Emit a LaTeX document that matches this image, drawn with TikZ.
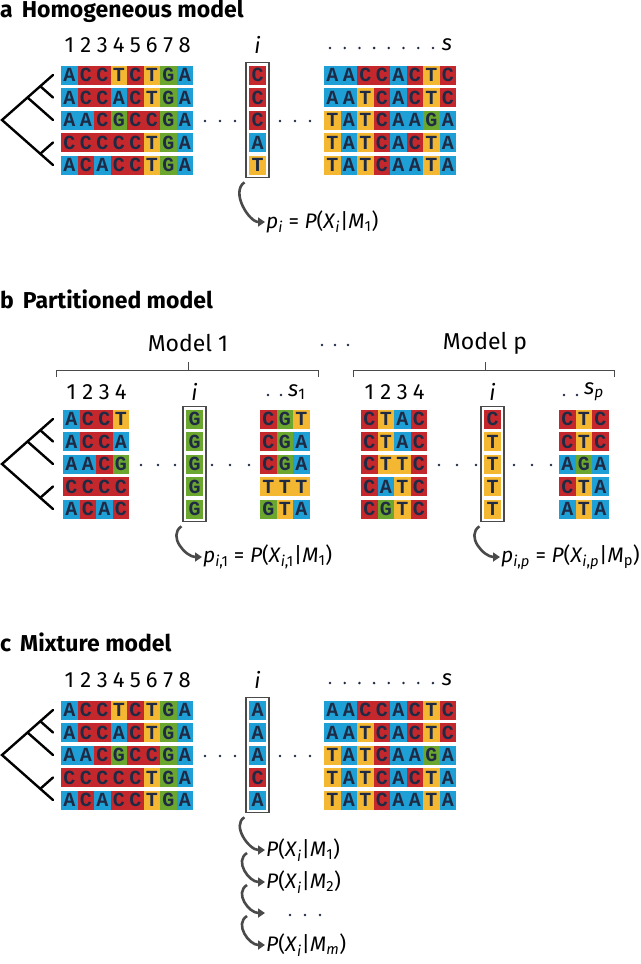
\documentclass[tikz,border=0pt]{standalone}
\usepackage{fontspec}
\setmainfont{Fira Sans}
\newfontfamily\basefont{Liberation Mono}
\usetikzlibrary{arrows.meta,fit,calc}
\definecolor{bA}{HTML}{1E9FD6}
\definecolor{bC}{HTML}{C5282C}
\definecolor{bG}{HTML}{6BA62F}
\definecolor{bT}{HTML}{F4B731}
\definecolor{ink}{HTML}{1F2A44}
\definecolor{arr}{HTML}{4A4A4A}
\tikzset{
  cell/.style={minimum width=16.6pt,minimum height=19pt,inner sep=0pt,
    text=ink,font=\basefont\bfseries\fontsize{20}{20}\selectfont},
  A/.style={fill=bA}, C/.style={fill=bC}, G/.style={fill=bG}, T/.style={fill=bT},
  treeline/.style={line width=2.4pt,black,line cap=round},
  ibox/.style={draw=arr,line width=1.2pt,inner sep=3pt},
  curl/.style={draw=arr,line width=2.6pt,-{Triangle[length=7pt,width=9pt]}},
  num/.style={font=\fontsize{22}{22}\selectfont,inner sep=0pt},
  title/.style={font=\bfseries\fontsize{23}{23}\selectfont,anchor=west,inner sep=0pt},
  mlabel/.style={font=\fontsize{23}{23}\selectfont,inner sep=0pt},
  eq/.style={font=\fontsize{21}{21}\selectfont,anchor=west,inner sep=1pt},
  bracket/.style={draw=arr,line width=1pt},
}
\newcommand\seqrow[4]{\foreach \b [count=\k] in {#4} {\node[cell,\b] (#1-\k) at ({#2+8.3+(\k-1)*16.5},#3) {\b};}}
\newcommand\dotsat[2]{\foreach \xx in {#1} {\fill[ink] (\xx,#2) circle (1.4);}}
\newcommand\tree[1]{%
  \draw[treeline] (53,{#1-45}) -- (2,#1) -- (53,{#1+45});
  \draw[treeline] (53,{#1-22.5}) -- (40.3,{#1-33.75});
  \draw[treeline] (53,#1) -- (27.5,{#1-22.5});
  \draw[treeline] (53,{#1+22.5}) -- (40.3,{#1+33.75});}
\newcommand\iv[1]{\textit{#1}}
\newcommand\sbs[1]{\textsubscript{#1}}
\begin{document}
\begin{tikzpicture}[x=1pt,y=-1pt]
\useasboundingbox (0,0) rectangle (640,964);
%%%%%%%%%%%%%%%% panel a
\node[title] (ta) at (0,11) {a\hspace{9pt}Homogeneous model};
\foreach \n in {1,...,8} {\node[num] (an\n) at ({61+8.3+(\n-1)*16.5},45) {\n};}
\node[num] (ai) at (257.5,45) {\iv{i}};
\dotsat{330,344.7,359.4,374.1,388.8,403.5,418.2,432.9}{48}
\node[num] (as) at (447,45) {\iv{s}};
\seqrow{a1}{61}{75}{A,C,C,T,C,T,G,A}
\seqrow{a2}{61}{97.5}{A,C,C,A,C,T,G,A}
\seqrow{a3}{61}{120}{A,A,C,G,C,C,G,A}
\seqrow{a4}{61}{142.5}{C,C,C,C,C,T,G,A}
\seqrow{a5}{61}{165}{A,C,A,C,C,T,G,A}
\seqrow{aci}{249.2}{75}{C}
\seqrow{acj}{249.2}{97.5}{C}
\seqrow{ack}{249.2}{120}{C}
\seqrow{acl}{249.2}{142.5}{A}
\seqrow{acm}{249.2}{165}{T}
\node[ibox,fit=(aci-1)(acm-1)] (abox) {};
\seqrow{ar1}{324}{75}{A,A,C,C,A,C,T,C}
\seqrow{ar2}{324}{97.5}{A,A,T,C,A,C,T,C}
\seqrow{ar3}{324}{120}{T,A,T,C,A,A,G,A}
\seqrow{ar4}{324}{142.5}{T,A,T,C,A,C,T,A}
\seqrow{ar5}{324}{165}{T,A,T,C,A,A,T,A}
\dotsat{205,220,235,280,295,310}{121}
\tree{120}
\node[eq] (ap) at (265,222) {\iv{p}\sbs{\iv{i}} = \iv{P}(\iv{X}\sbs{\iv{i}}|\iv{M}\sbs{1})};
\draw[curl] ($(abox.south west)+(-1,4)$) .. controls +(-14,10) and +(-16,0) .. (ap.west);
%%%%%%%%%%%%%%%% panel b
\node[title] (tb) at (0,299) {b\hspace{9pt}Partitioned model};
\node[mlabel] (m1) at (188,343) {Model 1};
\dotsat{322,335,348}{345}
\node[mlabel] (mp) at (485,343) {Model p};
\draw[bracket] (56,377) -- (56,370) -- (318,370) -- (318,377);
\draw[bracket] (188,370) -- (188,362);
\draw[bracket] (353,377) -- (353,370) -- (614,370) -- (614,377);
\draw[bracket] (485,370) -- (485,362);
\foreach \n in {1,...,4} {\node[num] (bn\n) at ({63+8.3+(\n-1)*16.5},392) {\n};}
\node[num] (bi1) at (194.5,392) {\iv{i}};
\dotsat{268,281}{395}
\node[num,anchor=west] (bs1) at (288,392) {\iv{s}\sbs{1}};
\foreach \n in {1,...,4} {\node[num] (bpn\n) at ({361+8.3+(\n-1)*16.5},392) {\n};}
\node[num] (bi2) at (492.5,392) {\iv{i}};
\dotsat{564,577}{395}
\node[num,anchor=west] (bs2) at (584,392) {\iv{s}\sbs{\iv{p}}};
\seqrow{b1}{63}{419}{A,C,C,T}
\seqrow{b2}{63}{441.5}{A,C,C,A}
\seqrow{b3}{63}{464}{A,A,C,G}
\seqrow{b4}{63}{486.5}{C,C,C,C}
\seqrow{b5}{63}{509}{A,C,A,C}
\seqrow{bci}{186.2}{419}{G}
\seqrow{bcj}{186.2}{441.5}{G}
\seqrow{bck}{186.2}{464}{G}
\seqrow{bcl}{186.2}{486.5}{G}
\seqrow{bcm}{186.2}{509}{G}
\node[ibox,fit=(bci-1)(bcm-1)] (bbox1) {};
\seqrow{br1}{260}{419}{C,G,T}
\seqrow{br2}{260}{441.5}{C,G,A}
\seqrow{br3}{260}{464}{C,G,A}
\seqrow{br4}{260}{486.5}{T,T,T}
\seqrow{br5}{260}{509}{G,T,A}
\seqrow{p1}{361}{419}{C,T,A,C}
\seqrow{p2}{361}{441.5}{C,T,A,C}
\seqrow{p3}{361}{464}{C,T,T,C}
\seqrow{p4}{361}{486.5}{C,A,T,C}
\seqrow{p5}{361}{509}{C,G,T,C}
\seqrow{pci}{484.2}{419}{C}
\seqrow{pcj}{484.2}{441.5}{T}
\seqrow{pck}{484.2}{464}{T}
\seqrow{pcl}{484.2}{486.5}{T}
\seqrow{pcm}{484.2}{509}{T}
\node[ibox,fit=(pci-1)(pcm-1)] (bbox2) {};
\seqrow{pr1}{559}{419}{C,T,C}
\seqrow{pr2}{559}{441.5}{C,T,C}
\seqrow{pr3}{559}{464}{A,G,A}
\seqrow{pr4}{559}{486.5}{C,T,A}
\seqrow{pr5}{559}{509}{A,T,A}
\dotsat{141,158,175,212,230,249,439,457,476,514,532,551}{465}
\tree{464}
\node[eq] (bp1) at (202,557) {\iv{p}\sbs{\iv{i},1} = \iv{P}(\iv{X}\sbs{\iv{i},1}|\iv{M}\sbs{1})};
\node[eq] (bp2) at (500,557) {\iv{p}\sbs{\iv{i},\iv{p}} = \iv{P}(\iv{X}\sbs{\iv{i},\iv{p}}|\iv{M}\sbs{p})};
\draw[curl] ($(bbox1.south west)+(-1,4)$) .. controls +(-14,10) and +(-16,0) .. (bp1.west);
\draw[curl] ($(bbox2.south west)+(-1,4)$) .. controls +(-14,10) and +(-16,0) .. (bp2.west);
%%%%%%%%%%%%%%%% panel c
\node[title] (tc) at (0,642) {c\hspace{9pt}Mixture model};
\foreach \n in {1,...,8} {\node[num] (cn\n) at ({61+8.3+(\n-1)*16.5},680) {\n};}
\node[num] (ci) at (257.5,680) {\iv{i}};
\dotsat{330,344.7,359.4,374.1,388.8,403.5,418.2,432.9}{683}
\node[num] (cs) at (447,680) {\iv{s}};
\seqrow{c1}{61}{710}{A,C,C,T,C,T,G,A}
\seqrow{c2}{61}{732.5}{A,C,C,A,C,T,G,A}
\seqrow{c3}{61}{755}{A,A,C,G,C,C,G,A}
\seqrow{c4}{61}{777.5}{C,C,C,C,C,T,G,A}
\seqrow{c5}{61}{800}{A,C,A,C,C,T,G,A}
\seqrow{cci}{249.2}{710}{A}
\seqrow{ccj}{249.2}{732.5}{A}
\seqrow{cck}{249.2}{755}{A}
\seqrow{ccl}{249.2}{777.5}{C}
\seqrow{ccm}{249.2}{800}{A}
\node[ibox,fit=(cci-1)(ccm-1)] (cbox) {};
\seqrow{cr1}{324}{710}{A,A,C,C,A,C,T,C}
\seqrow{cr2}{324}{732.5}{A,A,T,C,A,C,T,C}
\seqrow{cr3}{324}{755}{T,A,T,C,A,A,G,A}
\seqrow{cr4}{324}{777.5}{T,A,T,C,A,C,T,A}
\seqrow{cr5}{324}{800}{T,A,T,C,A,A,T,A}
\dotsat{205,220,235,280,295,310}{756}
\tree{755}
\node[eq] (cp1) at (265,850) {\iv{P}(\iv{X}\sbs{\iv{i}}|\iv{M}\sbs{1})};
\node[eq] (cp2) at (265,882) {\iv{P}(\iv{X}\sbs{\iv{i}}|\iv{M}\sbs{2})};
\node[eq] (cp3) at (265,913) {\phantom{P(X}};
\dotsat{290,305,320}{915}
\node[eq] (cp4) at (265,945) {\iv{P}(\iv{X}\sbs{\iv{i}}|\iv{M}\sbs{\iv{m}})};
\coordinate (k1) at (247,853);
\coordinate (k2) at (247,885);
\coordinate (k3) at (247,916);
\draw[curl] ($(cbox.south west)+(-1,4)$) .. controls +(-13,8) and +(-16,0) .. (cp1.west);
\draw[curl] (k1) .. controls +(-13,8) and +(-16,0) .. (cp2.west);
\draw[curl] (k2) .. controls +(-13,8) and +(-16,0) .. (cp3.west);
\draw[curl] (k3) .. controls +(-13,8) and +(-16,0) .. (cp4.west);
\end{tikzpicture}
\end{document}
